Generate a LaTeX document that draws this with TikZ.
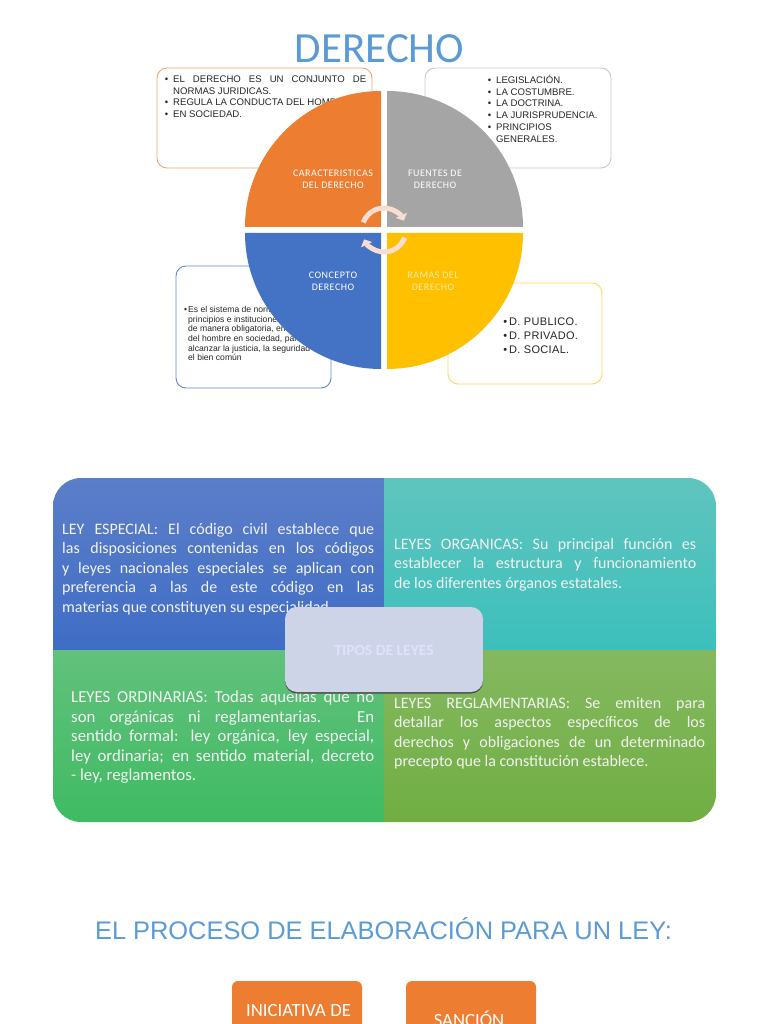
\documentclass[tikz,border=0pt]{standalone}
\usepackage{fontspec}
\setmainfont{Carlito}
\newfontfamily\arialfont{Liberation Sans}
\newfontfamily\boxfont[LetterSpace=3]{Liberation Sans}
\newfontfamily\wedgefont[LetterSpace=5]{Carlito}
\usetikzlibrary{arrows.meta}
\definecolor{titleblue}{HTML}{5B9BD5}
\definecolor{wedgeorange}{HTML}{ED7D31}
\definecolor{wedgegray}{HTML}{A5A5A5}
\definecolor{wedgeblue}{HTML}{4472C4}
\definecolor{wedgeyellow}{HTML}{FFC000}
\definecolor{bluetop}{HTML}{5C7EC9}
\definecolor{bluebot}{HTML}{3F6DC5}
\definecolor{tealtop}{HTML}{60C4BE}
\definecolor{tealbot}{HTML}{3CC0BC}
\definecolor{greentop}{HTML}{62C17C}
\definecolor{greenbot}{HTML}{3FBB63}
\definecolor{olivetop}{HTML}{85B960}
\definecolor{olivebot}{HTML}{70AE43}
\definecolor{tiposfill}{HTML}{CDD4E8}
\definecolor{cyclepink}{HTML}{F8DDD2}
\newcommand{\bul}{\leavevmode\llap{•\hspace{5pt}}}
\tikzset{
  infobox/.style={fill=white,line width=0.9pt,rounded corners=10pt},
  listtext/.style={anchor=north west,inner sep=0pt,text=black!85,align=left},
  wedgetext/.style={inner sep=0pt,align=center,text=white,font=\wedgefont\fontsize{10}{12}\selectfont},
  paneltext/.style={anchor=north west,inner sep=0pt,align=justify,text=white!95!black,font=\fontsize{16}{19.5}\selectfont},
  cycleline/.style={draw=cyclepink,line width=5pt,-{Triangle[width=12pt,length=6pt]}},
  stepbox/.style={fill=wedgeorange,rounded corners=6pt},
  steptext/.style={inner sep=0pt,align=center,text=white,font=\fontsize{18.7}{22}\selectfont}
}
\begin{document}
\begin{tikzpicture}[x=1pt,y=-1pt,line join=round]
\useasboundingbox (0,0) rectangle (768,1024);
\clip (0,0) rectangle (768,1024);
\node[text=titleblue,font=\fontsize{43}{45}\selectfont] (title) at (379.5,49) {DERECHO};
\draw[infobox,draw=wedgeorange!70] (157,68) rectangle (372,168);
\draw[infobox,draw=black!22] (425,68) rectangle (611,168);
\draw[infobox,draw=wedgeblue!85] (176,266) rectangle (331,388);
\draw[infobox,draw=wedgeyellow!65] (448,283) rectangle (602,384);
\node[listtext,text width=193pt,align=justify,font=\arialfont\fontsize{9.6}{11.7}\selectfont] (caract) at (173,75.5)
{\bul EL DERECHO ES UN CONJUNTO DE\linebreak NORMAS JURIDICAS.\\
\bul REGULA LA CONDUCTA DEL HOMBRE\\
\bul EN SOCIEDAD.};
\node[listtext,font=\arialfont\fontsize{9.6}{11.7}\selectfont] (fuentes) at (496,75)
{\bul LEGISLACIÓN.\\
\bul LA COSTUMBRE.\\
\bul LA DOCTRINA.\\
\bul LA JURISPRUDENCIA.\\
\bul PRINCIPIOS\\
GENERALES.};
\node[listtext,font=\arialfont\fontsize{8.6}{9.7}\selectfont] (concepto) at (188,306)
{\llap{•\hspace{1pt}}Es el sistema de normas,\\
principios e instituciones\\
de manera obligatoria, en\\
del hombre en sociedad, para\\
alcanzar la justicia, la seguridad\\
el bien común};
\node[listtext,font=\boxfont\fontsize{11}{14.2}\selectfont] (ramas) at (509,317.5)
{\llap{•\hspace{2pt}}D. PUBLICO.\\
\llap{•\hspace{2pt}}D. PRIVADO.\\
\llap{•\hspace{2pt}}D. SOCIAL.};
\fill[wedgeorange] (381,227) -- (245,227) arc[start angle=180,end angle=90,radius=136pt] -- cycle;
\fill[wedgegray] (387,227) -- (387,91) arc[start angle=90,end angle=0,radius=136pt] -- cycle;
\fill[wedgeblue] (381,233) -- (381,369) arc[start angle=270,end angle=180,radius=136pt] -- cycle;
\fill[wedgeyellow] (387,233) -- (523,233) arc[start angle=0,end angle=-90,radius=136pt] -- cycle;
\node[wedgetext] (wcaract) at (333,179) {CARACTERISTICAS\\DEL DERECHO};
\node[wedgetext] (wfuentes) at (435,179) {FUENTES DE\\DERECHO};
\node[wedgetext] (wconcepto) at (333,281) {CONCEPTO\\DERECHO};
\node[wedgetext,text=wedgeyellow!35!white] (wramas) at (433,281) {RAMAS DEL\\DERECHO};
\draw[cycleline] (363.3,222.5) arc[start angle=160,end angle=25,radius=22pt];
\draw[cycleline] (404.7,237.5) arc[start angle=-20,end angle=-155,radius=22pt];
\begin{scope}
\clip[rounded corners=28pt] (53,478) rectangle (716,822);
\shade[top color=bluetop,bottom color=bluebot] (53,478) rectangle (384,650);
\shade[top color=tealtop,bottom color=tealbot] (384,478) rectangle (716,650);
\shade[top color=greentop,bottom color=greenbot] (53,650) rectangle (384,822);
\shade[top color=olivetop,bottom color=olivebot] (384,650) rectangle (716,822);
\end{scope}
\node[paneltext,text width=312pt] (especial) at (62,523)
{LEY ESPECIAL: El código civil establece que\linebreak las disposiciones contenidas en los códigos\linebreak y leyes nacionales especiales se aplican con\linebreak preferencia a las de este código en las\linebreak materias que constituyen su especialidad.};
\node[paneltext,text width=302pt] (organicas) at (394,538)
{LEYES ORGANICAS: Su principal función es\linebreak establecer la estructura y funcionamiento\linebreak de los diferentes órganos estatales.};
\node[paneltext,text width=303pt,font=\fontsize{16.8}{19.5}\selectfont] (ordinarias) at (71,691)
{LEYES ORDINARIAS: Todas aquellas que no\linebreak son orgánicas ni reglamentarias. En\linebreak sentido formal: ley orgánica, ley especial,\linebreak ley ordinaria; en sentido material, decreto\linebreak - ley, reglamentos.};
\node[paneltext,text width=311pt] (reglamentarias) at (394,697)
{LEYES REGLAMENTARIAS: Se emiten para\linebreak detallar los aspectos específicos de los\linebreak derechos y obligaciones de un determinado\linebreak precepto que la constitución establece.};
\fill[black!70,rounded corners=12pt] (285,609) rectangle (483,693.5);
\fill[tiposfill,rounded corners=12pt] (285,607) rectangle (483,692);
\node[inner sep=0pt,text=white!88!blue,font=\bfseries\fontsize{15.5}{17}\selectfont] (tipos) at (384,650) {TIPOS DE LEYES};
\node[text=titleblue,font=\arialfont\fontsize{25.4}{27}\selectfont] (proceso) at (383.5,928.5) {EL PROCESO DE ELABORACIÓN PARA UN LEY:};
\fill[stepbox] (232,981) rectangle (362,1060);
\fill[stepbox] (406,981) rectangle (536,1060);
\node[steptext] (iniciativa) at (298.5,1021) {INICIATIVA DE\\LEY};
\node[steptext] (sancion) at (469,1018.5) {SANCIÓN};
\end{tikzpicture}
\end{document}
